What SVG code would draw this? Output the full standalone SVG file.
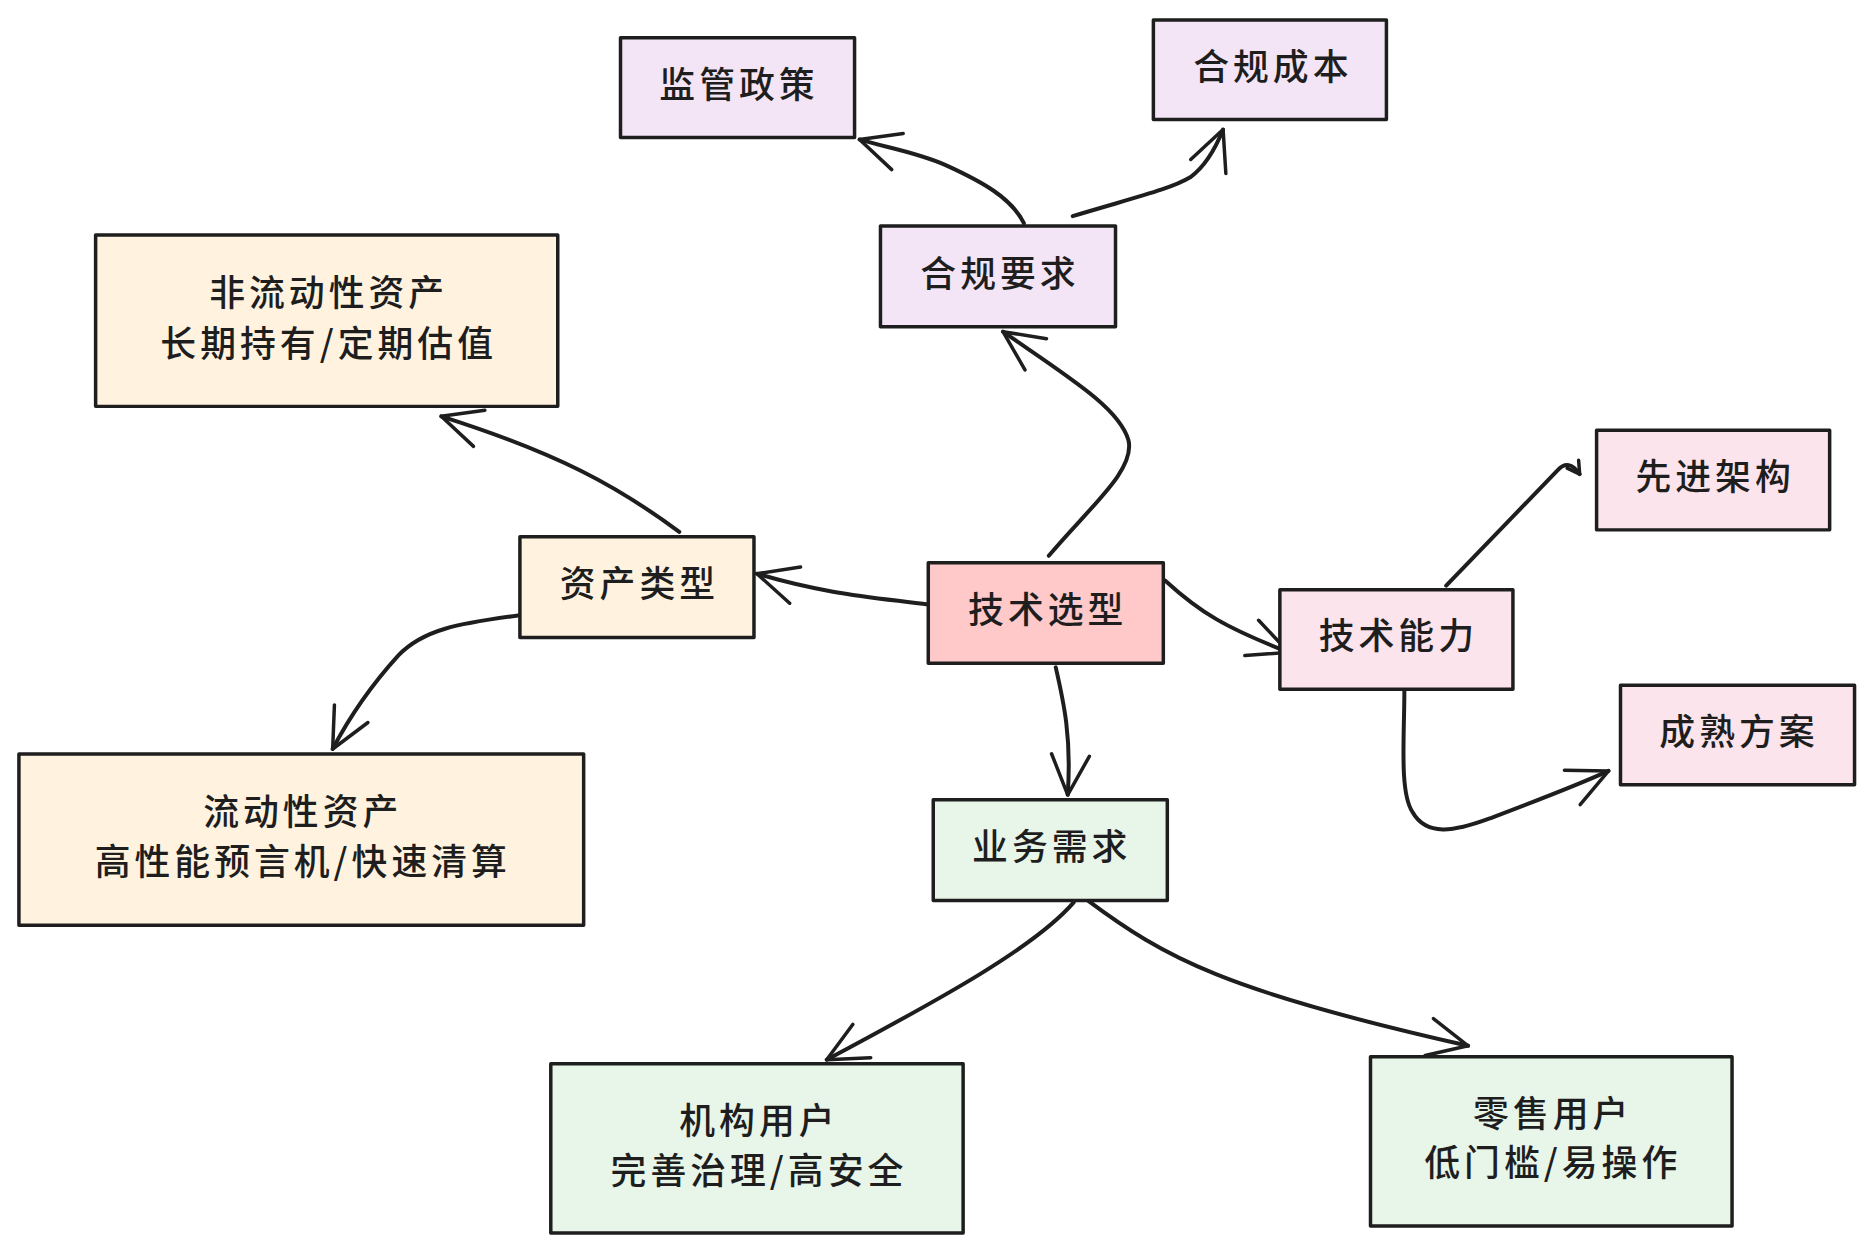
<svg xmlns="http://www.w3.org/2000/svg" width="1873" height="1254" viewBox="0 0 1873 1254">
<defs>
<style>
.box{stroke:#1e1e1e;stroke-width:3.5;stroke-linejoin:round}
.purple{fill:#f3e5f5}
.peach{fill:#fff3e0}
.pink{fill:#fce4ec}
.green{fill:#e8f5e9}
.main{fill:#ffc9c9}
.lbl{font-family:"Noto Sans CJK SC","Noto Sans",sans-serif;font-size:36px;font-weight:500;fill:#1e1e1e;text-anchor:middle;dominant-baseline:central;letter-spacing:4px}
.edge{fill:none;stroke:#1e1e1e;stroke-width:4;stroke-linecap:round;stroke-linejoin:round}
</style>
<marker id="ah" viewBox="-45 -25 50 50" refX="0" refY="0" markerWidth="50" markerHeight="50" markerUnits="userSpaceOnUse" orient="auto" overflow="visible">
<path d="M-40,-19 L0,0 L-40,19" fill="none" stroke="#1e1e1e" stroke-width="3.5" stroke-linecap="round" stroke-linejoin="round"/>
</marker>
<marker id="ahs" viewBox="-20 -10 25 20" refX="0" refY="0" markerWidth="25" markerHeight="20" markerUnits="userSpaceOnUse" orient="auto" overflow="visible">
<path d="M-12,-7 L0,0 L-12,7" fill="none" stroke="#1e1e1e" stroke-width="3.5" stroke-linecap="round" stroke-linejoin="round"/>
</marker>
</defs>
<rect width="1873" height="1254" fill="#ffffff"/>
<g id="diagram" transform="scale(0.996)">
<g id="connectors">
<path class="edge" marker-end="url(#ah)" d="M1053,558 C1095,508 1140,472 1133,442 C1124,410 1075,380 1007,333"/>
<path class="edge" marker-end="url(#ah)" d="M1028,224 C1015,198 985,182 950,166 C918,152 888,148 863,140"/>
<path class="edge" marker-end="url(#ah)" d="M1077,217 C1140,198 1175,190 1195,178 C1210,167 1220,150 1228,130"/>
<path class="edge" marker-end="url(#ah)" d="M932,607 C880,600 830,597 760,576"/>
<path class="edge" marker-end="url(#ah)" d="M682,534 C620,488 560,455 443,418"/>
<path class="edge" marker-end="url(#ah)" d="M520,618 C460,626 425,632 400,658 C380,680 355,712 334,752"/>
<path class="edge" marker-end="url(#ah)" d="M1170,583 C1205,615 1230,630 1294,655"/>
<path class="edge" marker-end="url(#ahs)" d="M1452,588 L1564,472 Q1575,460 1586,476"/>
<path class="edge" marker-end="url(#ah)" d="M1410,694 C1410,740 1405,795 1418,815 C1432,840 1460,835 1495,822 C1540,805 1580,790 1615,774"/>
<path class="edge" marker-end="url(#ah)" d="M1060,670 C1068,705 1076,740 1072,798"/>
<path class="edge" marker-end="url(#ah)" d="M1078,906 C1040,950 950,1000 830,1064"/>
<path class="edge" marker-end="url(#ah)" d="M1092,904 C1170,962 1230,995 1474,1050"/>
</g>
<g id="n-jianguan"><rect class="box purple" x="623" y="38" width="235" height="100"/><text class="lbl" x="742" y="82">监管政策</text></g>
<g id="n-hegui-cost"><rect class="box purple" x="1158" y="20" width="234" height="100"/><text class="lbl" x="1278" y="64">合规成本</text></g>
<g id="n-hegui"><rect class="box purple" x="884" y="227" width="236" height="101"/><text class="lbl" x="1004" y="272">合规要求</text></g>
<g id="n-illiquid"><rect class="box peach" x="96" y="236" width="464" height="172"/><text class="lbl" x="330" y="291">非流动性资产</text><text class="lbl" x="330" y="342">长期持有/定期估值</text></g>
<g id="n-asset"><rect class="box peach" x="522" y="539" width="235" height="101"/><text class="lbl" x="642" y="583">资产类型</text></g>
<g id="n-main"><rect class="box main" x="932" y="565" width="236" height="101"/><text class="lbl" x="1052" y="609">技术选型</text></g>
<g id="n-tech"><rect class="box pink" x="1285" y="592" width="234" height="100"/><text class="lbl" x="1404" y="636">技术能力</text></g>
<g id="n-adv"><rect class="box pink" x="1603" y="432" width="234" height="100"/><text class="lbl" x="1722" y="476">先进架构</text></g>
<g id="n-mature"><rect class="box pink" x="1627" y="688" width="235" height="100"/><text class="lbl" x="1746" y="732">成熟方案</text></g>
<g id="n-liquid"><rect class="box peach" x="19" y="757" width="567" height="172"/><text class="lbl" x="304" y="812">流动性资产</text><text class="lbl" x="304" y="862">高性能预言机/快速清算</text></g>
<g id="n-biz"><rect class="box green" x="937" y="803" width="235" height="101"/><text class="lbl" x="1056" y="847">业务需求</text></g>
<g id="n-inst"><rect class="box green" x="553" y="1068" width="414" height="170"/><text class="lbl" x="762" y="1123">机构用户</text><text class="lbl" x="762" y="1173">完善治理/高安全</text></g>
<g id="n-retail"><rect class="box green" x="1376" y="1061" width="363" height="170"/><text class="lbl" x="1559" y="1115">零售用户</text><text class="lbl" x="1559" y="1165">低门槛/易操作</text></g>
</g>
</svg>
